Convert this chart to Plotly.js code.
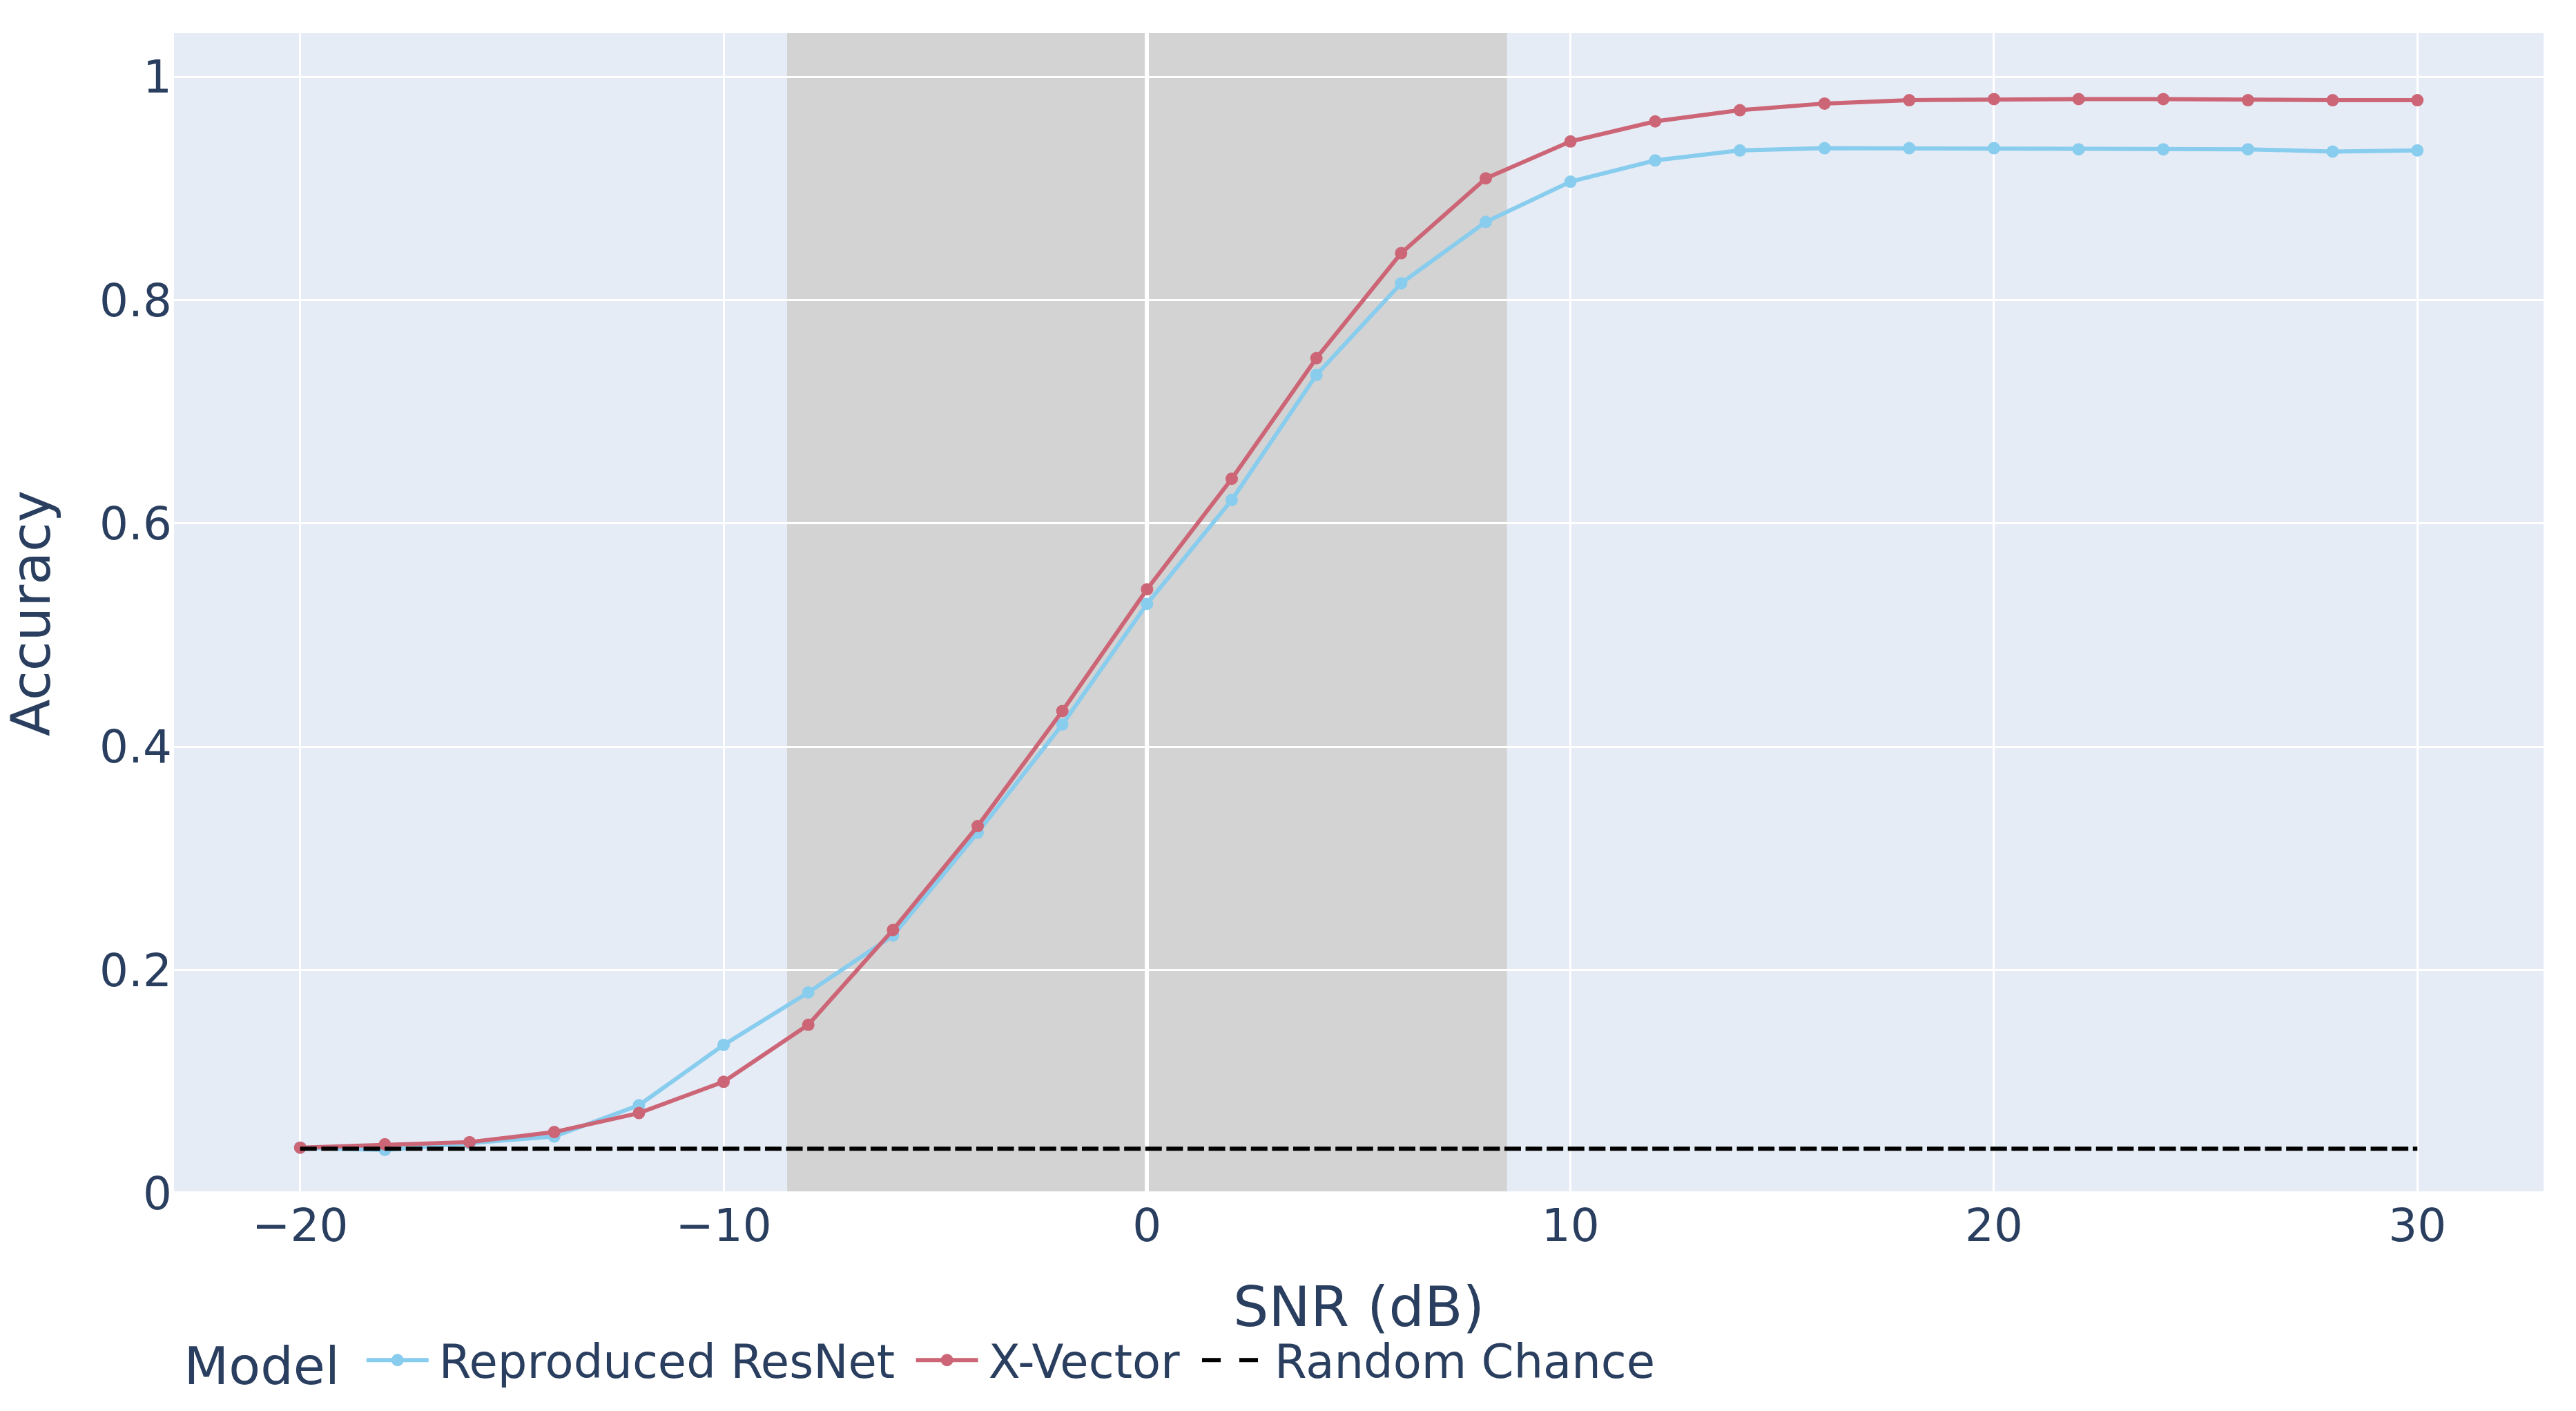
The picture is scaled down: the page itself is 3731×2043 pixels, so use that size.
<!DOCTYPE html>
<html>
<head>
<meta charset="utf-8">
<script src="https://cdn.plot.ly/plotly-3.0.1.min.js"></script>
<style>
  html, body { margin: 0; padding: 0; background: #ffffff; overflow: hidden; }
  #wrap { width: 3731px; height: 2043px; overflow: hidden; }
  #plot { width: 1243.667px; height: 681px; transform: scale(3); transform-origin: 0 0; }
</style>
</head>
<body>
<div id="wrap"><div id="plot"></div></div>
<script>
// Data
const snr = [-20, -18, -16, -14, -12, -10, -8, -6, -4, -2, 0, 2, 4, 6, 8, 10, 12, 14, 16, 18, 20, 22, 24, 26, 28, 30];
const resnetAcc = [0.041, 0.039, 0.045, 0.051, 0.079, 0.133, 0.180, 0.231, 0.323, 0.420, 0.528, 0.621, 0.733, 0.815, 0.870, 0.906, 0.925, 0.934, 0.936, 0.936, 0.936, 0.935, 0.935, 0.935, 0.933, 0.934];
const xvectorAcc = [0.041, 0.044, 0.046, 0.055, 0.072, 0.100, 0.151, 0.236, 0.329, 0.432, 0.541, 0.640, 0.748, 0.842, 0.909, 0.942, 0.960, 0.970, 0.976, 0.979, 0.980, 0.980, 0.980, 0.979, 0.979, 0.979];
const chanceSnr = [-20, 30];
const chanceAcc = [0.04, 0.04];
const seriesNames = ["Reproduced ResNet", "X-Vector", "Random Chance"];
const shadedBand = [-8.5, 8.5];
const xTicks = [-20, -10, 0, 10, 20, 30];
const yTicks = [0, 0.2, 0.4, 0.6, 0.8, 1];

const W = 3731 / 3, H = 2043 / 3;
const fontFam = "DejaVu Sans, Verdana, sans-serif";
const txtColor = "#2a3f5f";

const traces = [
  { x: snr, y: resnetAcc, name: seriesNames[0], type: "scatter", mode: "lines+markers",
    line: { color: "#88CCEE", width: 2 }, marker: { color: "#88CCEE", size: 6 } },
  { x: snr, y: xvectorAcc, name: seriesNames[1], type: "scatter", mode: "lines+markers",
    line: { color: "#CC6677", width: 2 }, marker: { color: "#CC6677", size: 6 } },
  // legend entry for the chance line (standard dash pattern, as in the reference legend)
  { x: [null], y: [null], name: seriesNames[2], type: "scatter", mode: "lines",
    line: { color: "#000000", width: 2, dash: "dash" }, hoverinfo: "skip" },
  // the chance line itself
  { x: chanceSnr, y: chanceAcc, name: seriesNames[2], type: "scatter", mode: "lines",
    showlegend: false, line: { color: "#000000", width: 2, dash: "8px,2.2px" } }
];

const layout = {
  width: W, height: H,
  paper_bgcolor: "#ffffff", plot_bgcolor: "#E5ECF6",
  font: { family: fontFam, size: 22, color: txtColor },
  margin: { l: 83.7, r: 15.7, t: 15.7, b: 105, autoexpand: false },
  xaxis: {
    range: [-22.98, 32.98], tickvals: xTicks, automargin: false,
    gridcolor: "#ffffff", gridwidth: 1, zerolinecolor: "#ffffff", zerolinewidth: 2,
    showline: false, ticks: "",
    tickfont: { size: 22, family: fontFam, color: txtColor },
    title: { text: "SNR (dB)", font: { size: 27, family: fontFam, color: txtColor }, standoff: 17.5 }
  },
  yaxis: {
    range: [0, 1.039], tickvals: yTicks, automargin: false,
    gridcolor: "#ffffff", gridwidth: 1, zerolinecolor: "#ffffff", zerolinewidth: 2,
    showline: false, ticks: "",
    tickfont: { size: 22, family: fontFam, color: txtColor },
    title: { text: "Accuracy", font: { size: 26, family: fontFam, color: txtColor }, standoff: 18 }
  },
  legend: {
    orientation: "h", x: 0.0025, xanchor: "left", y: -0.106, yanchor: "top",
    font: { size: 22.4, family: fontFam, color: txtColor },
    title: { text: "Model", font: { size: 25, family: fontFam, color: txtColor } },
    bgcolor: "rgba(0,0,0,0)"
  },
  shapes: [
    { type: "rect", xref: "x", yref: "paper", x0: shadedBand[0], x1: shadedBand[1], y0: 0, y1: 1,
      fillcolor: "#D3D3D3", line: { width: 0 }, layer: "below" }
  ],
  showlegend: true
};

Plotly.newPlot("plot", traces, layout, { staticPlot: true, displayModeBar: false });
</script>
</body>
</html>
